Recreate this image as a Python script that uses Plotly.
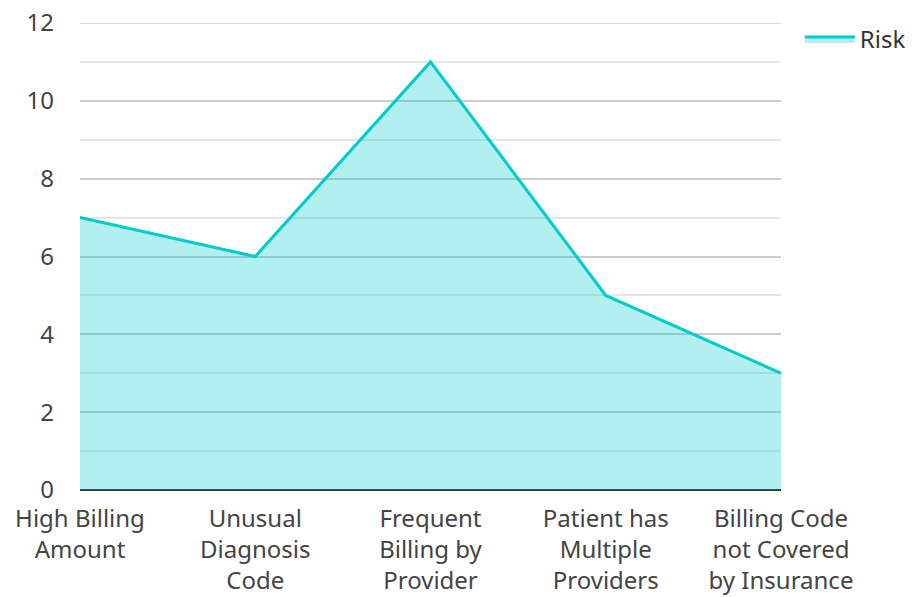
import plotly.graph_objects as go

categories = ["High Billing<br>Amount", "Unusual<br>Diagnosis<br>Code", "Frequent<br>Billing by<br>Provider",
              "Patient has<br>Multiple<br>Providers", "Billing Code<br>not Covered<br>by Insurance"]
risk = [7, 6, 11, 5, 3]
y_max = 12

fig = go.Figure()
fig.add_trace(go.Scatter(
    x=list(range(len(categories))), y=risk, name="Risk", mode="lines",
    line=dict(color="#00cccc", width=3), fill="tozeroy", fillcolor="rgba(0,204,204,0.3)",
))
# top gridline (plotly clips gridlines at the range ends)
fig.add_shape(type="line", xref="paper", yref="y", x0=0, x1=1, y0=y_max, y1=y_max,
              line=dict(color="#cccccc", width=1.5), layer="below")
fig.update_layout(
    width=906, height=590, margin=dict(l=72, r=133, t=15, b=108),
    paper_bgcolor="white", plot_bgcolor="white",
    font=dict(family="Noto Sans", size=24, color="#444"),
    showlegend=True,
    legend=dict(xref="container", yref="container", x=0.874, y=0.985, xanchor="left", yanchor="top",
                font=dict(size=24, color="#333"), itemwidth=50,
                bgcolor="rgba(0,0,0,0)"),
    xaxis=dict(tickmode="array", tickvals=list(range(len(categories))), ticktext=categories,
               range=[0, 4], showgrid=False, zeroline=False, showline=False, ticks="",
               automargin=False, ticklabelstandoff=12, ticklabeloverflow="allow"),
    yaxis=dict(range=[0, y_max], dtick=2,
               gridcolor="#cccccc", gridwidth=1.5,
               zeroline=True, zerolinecolor="#333333", zerolinewidth=2,
               minor=dict(dtick=1, showgrid=True, gridcolor="#e6e6e6", gridwidth=1.5),
               ticks="", ticklabelstandoff=25, automargin=False, tickfont=dict(size=24),
               ticklabeloverflow="allow"),
)
fig.write_html("out.html")
